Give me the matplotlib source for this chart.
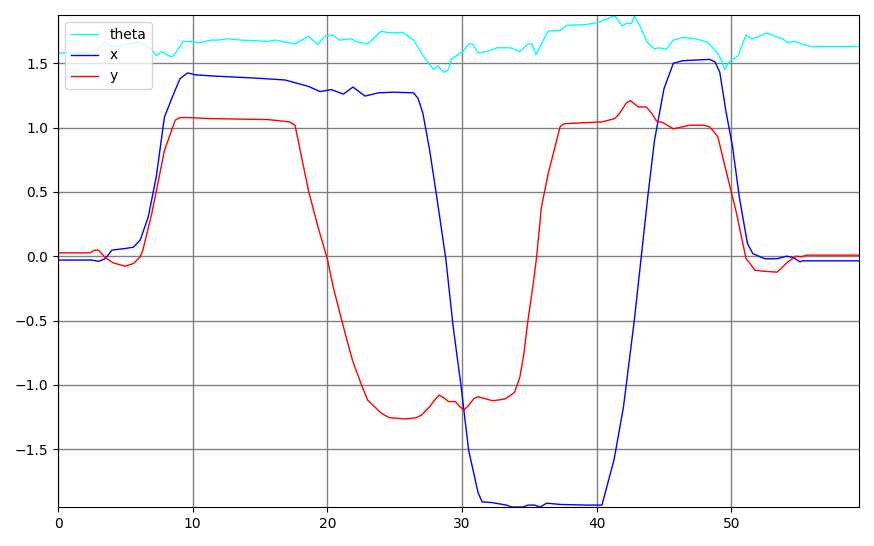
import numpy as np
import matplotlib
matplotlib.use("Agg")
import matplotlib.pyplot as plt

# theta series (cyan)
t_theta = [0.0, 0.3, 2.4, 2.75, 3.0, 3.5, 4.0, 4.7, 5.2, 5.96, 6.3, 6.95, 7.3, 7.7, 8.4, 8.6,
           9.3, 9.7, 10.5, 11.4, 11.9, 12.6, 13.6, 15.6, 16.1, 17.6, 18.6, 19.3, 19.8, 20.4,
           20.9, 21.8, 22.2, 23.0, 23.5, 24.0, 24.4, 25.1, 25.6, 26.4, 27.1, 27.9, 28.2,
           28.65, 29.0, 29.2, 30.1, 30.5, 30.8, 31.2, 32.1, 32.6, 33.6, 34.3, 34.9, 35.2,
           35.5, 35.9, 36.4, 37.3, 37.8, 39.2, 40.2, 41.35, 41.9, 42.2, 42.6, 42.8, 43.2,
           43.75, 44.3, 44.6, 45.2, 45.7, 46.4, 47.4, 48.2, 48.9, 49.3, 49.5, 49.9, 50.5,
           51.1, 51.5, 52.1, 52.6, 53.8, 54.2, 54.7, 55.2, 55.95, 59.5]
theta = [1.58, 1.58, 1.58, 1.61, 1.61, 1.67, 1.63, 1.63, 1.65, 1.665, 1.65, 1.61, 1.56, 1.59,
         1.55, 1.56, 1.67, 1.67, 1.66, 1.68, 1.68, 1.69, 1.68, 1.67, 1.68, 1.65, 1.71, 1.645,
         1.71, 1.72, 1.68, 1.69, 1.665, 1.65, 1.70, 1.75, 1.74, 1.735, 1.74, 1.68, 1.56, 1.45,
         1.48, 1.43, 1.45, 1.53, 1.595, 1.65, 1.65, 1.58, 1.60, 1.62, 1.62, 1.59, 1.65, 1.65,
         1.565, 1.65, 1.75, 1.755, 1.795, 1.80, 1.82, 1.87, 1.79, 1.81, 1.81, 1.865, 1.795,
         1.665, 1.61, 1.62, 1.61, 1.68, 1.70, 1.69, 1.665, 1.59, 1.52, 1.45, 1.52, 1.555,
         1.72, 1.69, 1.71, 1.735, 1.69, 1.66, 1.67, 1.65, 1.63, 1.63]

# x series (blue)
t_x = [0.0, 2.5, 3.0, 3.5, 4.0, 5.0, 5.6, 6.1, 6.7, 7.3, 7.9, 8.44, 9.06, 9.63, 10.2, 11.65,
       14.6, 16.85, 18.6, 19.45, 20.3, 21.2, 21.9, 22.8, 23.8, 24.9, 26.4, 26.75, 27.1, 27.6,
       28.2, 28.8, 29.35, 29.97, 30.2, 30.5, 31.2, 31.5, 32.2, 33.3, 33.7, 34.55, 34.9, 35.4,
       35.8, 36.3, 37.3, 39.25, 40.4, 41.3, 42.0, 42.8, 43.3, 43.8, 44.3, 45.0, 45.7, 46.4,
       48.4, 48.8, 49.15, 49.6, 50.1, 50.6, 51.2, 51.6, 52.5, 53.4, 54.1, 54.6, 55.1, 55.3,
       59.5]
x = [-0.03, -0.03, -0.04, -0.02, 0.047, 0.06, 0.07, 0.125, 0.305, 0.62, 1.08, 1.225, 1.38,
     1.425, 1.41, 1.40, 1.385, 1.37, 1.32, 1.28, 1.295, 1.26, 1.315, 1.245, 1.27, 1.275, 1.27,
     1.225, 1.11, 0.825, 0.41, -0.02, -0.55, -1.04, -1.25, -1.51, -1.84, -1.91, -1.915,
     -1.935, -1.95, -1.95, -1.935, -1.935, -1.95, -1.92, -1.93, -1.935, -1.935, -1.58, -1.17,
     -0.50, -0.02, 0.46, 0.90, 1.30, 1.50, 1.52, 1.53, 1.51, 1.43, 1.13, 0.85, 0.46, 0.10,
     0.02, -0.02, -0.02, 0.0, -0.01, -0.044, -0.036, -0.036]

# y series (red)
t_y = [0.0, 2.4, 2.7, 3.0, 3.5, 4.1, 4.97, 5.6, 6.1, 6.3, 6.96, 7.9, 8.7, 9.06, 9.67, 11.2,
       15.6, 17.2, 17.6, 18.6, 19.3, 20.0, 20.44, 20.9, 21.4, 21.9, 22.5, 23.0, 24.0, 24.6,
       25.8, 26.6, 27.0, 27.6, 28.0, 28.3, 28.65, 29.0, 29.5, 29.85, 30.14, 30.5, 30.9, 31.2,
       32.3, 33.2, 33.9, 34.3, 34.6, 34.9, 35.3, 35.55, 35.9, 36.4, 37.3, 37.6, 40.4, 41.35,
       41.7, 42.2, 42.5, 43.1, 43.7, 44.1, 44.45, 44.9, 45.7, 46.9, 48.0, 48.4, 49.0, 49.6,
       50.4, 51.1, 51.4, 51.75, 52.4, 53.4, 53.7, 54.2, 54.8, 55.2, 55.6, 59.5]
y = [0.026, 0.026, 0.047, 0.047, -0.01, -0.052, -0.078, -0.057, -0.005, 0.047, 0.33, 0.82,
     1.057, 1.078, 1.078, 1.07, 1.062, 1.044, 1.018, 0.51, 0.23, -0.02, -0.24, -0.43, -0.63,
     -0.82, -0.99, -1.12, -1.22, -1.255, -1.266, -1.255, -1.235, -1.17, -1.115, -1.08, -1.10,
     -1.13, -1.13, -1.17, -1.197, -1.16, -1.105, -1.093, -1.124, -1.11, -1.06, -0.94, -0.756,
     -0.50, -0.21, 0.0, 0.38, 0.64, 1.01, 1.03, 1.044, 1.07, 1.11, 1.19, 1.21, 1.16, 1.16,
     1.11, 1.05, 1.04, 0.99, 1.018, 1.018, 1.005, 0.93, 0.67, 0.33, -0.02, -0.057, -0.109,
     -0.117, -0.124, -0.096, -0.044, 0.0, -0.005, 0.008, 0.008]

fig, ax = plt.subplots(figsize=(8.74, 5.46), dpi=100)
fig.subplots_adjust(left=0.0664, right=0.983, top=0.9725, bottom=0.0714)

ax.plot(t_theta, theta, color='cyan', linewidth=1, label='theta')
ax.plot(t_x, x, color='blue', linewidth=1, label='x')
ax.plot(t_y, y, color='red', linewidth=1, label='y')

ax.set_xlim(0, 59.5)
ax.set_ylim(-1.95, 1.875)
ax.grid(color='gray', linewidth=1)
ax.legend(loc='upper left')

fig.savefig('out.png', dpi=100)
